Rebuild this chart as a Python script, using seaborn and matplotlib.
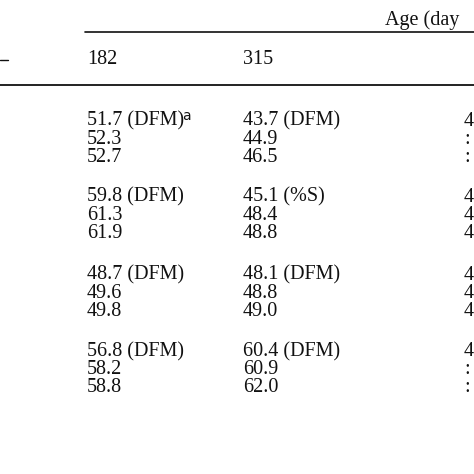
import matplotlib
matplotlib.use("Agg")
import matplotlib.pyplot as plt
import seaborn as sns

sns.set_theme(style="white")
plt.rcParams['font.family'] = ['Liberation Serif', 'DejaVu Serif']

ages = ["182", "315"]
col182 = [["51.7 (DFM)", "52.3", "52.7"],
          ["59.8 (DFM)", "61.3", "61.9"],
          ["48.7 (DFM)", "49.6", "49.8"],
          ["56.8 (DFM)", "58.2", "58.8"]]
col315 = [["43.7 (DFM)", "44.9", "46.5"],
          ["45.1 (%S)", "48.4", "48.8"],
          ["48.1 (DFM)", "48.8", "49.0"],
          ["60.4 (DFM)", "60.9", "62.0"]]
right_edge = [["4", ":", ":"], ["4", "4", "4"], ["4", "4", "4"], ["4", ":", ":"]]

fig = plt.figure(figsize=(4.74, 4.74), dpi=100)
ax = fig.add_axes([0, 0, 1, 1])
ax.set_xlim(0, 474)
ax.set_ylim(474, 0)
ax.axis("off")

fs = 14.5
c = "#111"
ax.text(385, 20, "Age (day", fontsize=fs, va="center", ha="left", color=c)
ax.plot([85, 474], [32, 32], color=c, lw=1.2)
ax.plot([0, 8], [60, 60], color=c, lw=1.0)
ax.text(87, 59, ages[0], fontsize=fs, va="center", color=c)
ax.text(243, 59, ages[1], fontsize=fs, va="center", color=c)
ax.plot([0, 474], [85, 85], color=c, lw=1.3)

group_y = [121, 197, 275, 352]
for g, y0 in enumerate(group_y):
    for r in range(3):
        y = y0 + r * 18
        ax.text(87, y, col182[g][r], fontsize=fs, va="center", color=c)
        ax.text(243, y, col315[g][r], fontsize=fs, va="center", color=c)
        ax.text(464, y, right_edge[g][r], fontsize=fs, va="center", color=c)
ax.text(182, 116, "a", fontsize=10, va="center", color=c,
        family=['DejaVu Sans'])

fig.savefig("out.png", dpi=100)
